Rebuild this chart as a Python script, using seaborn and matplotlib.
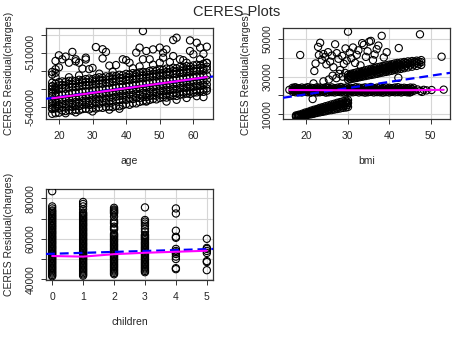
import matplotlib
matplotlib.use("Agg")
import matplotlib.pyplot as plt
import seaborn as sns
import pandas as pd

# ---------------- data (residuals for age panel in thousands) ----------------
ages = [18, 19, 20, 21, 22, 23, 24, 25, 26, 27, 28, 29, 30, 31, 32, 33, 34, 35, 36, 37,
        38, 39, 40, 41, 42, 43, 44, 45, 46, 47, 48, 49, 50, 51, 52, 53, 54, 55, 56, 57,
        58, 59, 60, 61, 62, 63, 64]
age_band1 = [-543.8, -543.5, -543.2, -542.0, -542.3, -541.8, -542.1, -541.5, -541.9, -541.2,
             -541.0, -541.4, -540.6, -540.9, -540.3, -540.5, -540.0, -539.8, -540.1, -539.5,
             -539.6, -539.0, -538.4, -538.8, -537.9, -538.0, -537.2, -536.8, -537.0, -536.1,
             -535.6, -535.8, -535.0, -534.6, -534.8, -534.0, -533.7, -533.9, -533.2, -533.0,
             -532.6, -532.8, -532.1, -531.9, -531.5, -531.6, -531.0]
age_band7 = [-541.2, -540.6, -540.9, -540.1, -540.4, -539.7, -540.0, -539.3, -539.6, -538.9,
             -538.6, -538.8, -538.1, -537.9, -538.2, -537.4, -537.6, -536.9, -537.1, -536.5,
             -536.2, -535.9, -536.1, -535.4, -535.6, -534.9, -535.1, -534.4, -534.6, -533.9,
             -533.6, -533.8, -533.1, -533.3, -532.6, -532.8, -532.1, -532.3, -531.6, -531.8,
             -531.1, -531.3, -530.6, -530.8, -530.1, -530.3, -529.7]
age_band2 = [-539.2, -538.6, -538.9, -538.1, -538.3, -537.6, -537.9, -537.2, -537.5, -536.8,
             -536.4, -536.7, -536.0, -535.6, -535.9, -535.2, -535.4, -534.7, -534.9, -534.3,
             -534.0, -533.6, -533.8, -533.1, -533.3, -532.6, -532.9, -532.1, -532.3, -531.6,
             -531.4, -531.7, -530.8, -531.0, -530.4, -530.6, -529.9, -530.1, -529.5, -529.2,
             -529.0, -528.6, -528.8, -528.1, -528.3, -527.6, -527.5]
age_band3 = [-536.6, -536.2, -536.0, -535.9, -535.4, -535.3, -535.1, -534.7, -534.6, -534.2,
             -534.1, -533.7, -533.6, -533.2, -533.1, -532.8, -532.4, -532.3, -532.0, -531.8,
             -531.4, -531.3, -531.0, -530.7, -530.6, -530.2, -529.9, -529.8, -529.4, -529.3,
             -529.0, -528.7, -528.6, -528.2, -528.0, -527.7, -527.5, -527.2, -527.0, -526.8,
             -526.4, -526.3, -526.0, -525.7, -525.6, -525.2, -525.0]
age_band4 = [-534.0, -533.8, -533.4, -533.3, -532.9, -532.8, -532.4, -532.3, -531.9, -531.8,
             -531.4, -531.3, -530.9, -530.8, -530.4, -530.3, -529.9, -529.8, -529.4, -529.3,
             -528.9, -528.8, -528.4, -528.3, -527.9, -527.8, -527.4, -527.3, -526.9, -526.8,
             -526.4, -526.3, -525.9, -525.8, -525.4, -525.3, -524.9, -524.8, -524.4, -524.3,
             -523.9, -523.8, -523.4, -523.3, -522.9, -522.8, -522.5]
age_band5 = [-530.2, -530.8, -530.0, -529.4, -529.9, -529.1, -528.7, -529.0, -528.4, -528.0,
             -527.8, -528.1, -527.3, -527.5, -526.9, -527.1, -526.4, -526.6, -526.0, -525.7,
             -525.4, -525.6, -524.9, -525.2, -524.4, -524.6, -523.9, -524.1, -523.4, -523.6,
             -522.9, -523.1, -522.4, -522.6, -521.9, -522.1, -521.5, -521.7, -521.0, -521.2,
             -520.6, -520.8, -520.1, -520.3, -519.7, -519.9, -519.3]
age_band8 = [-528.4, -528.9, -528.0, -527.7, -528.1, -527.2, -527.5, -526.8, -527.0, -526.4,
             -526.1, -526.3, -525.6, -525.9, -525.2, -525.4, -524.7, -524.9, -524.3, -524.5,
             -523.8, -524.0, -523.3, -523.6, -522.9, -523.1, -522.4, -522.6, -521.9, -522.1,
             -521.5, -521.7, -521.0, -521.2, -520.5, -520.7, -520.0, -520.2, -519.6, -519.8,
             -519.1, -519.3, -518.6, -518.8, -518.2, -518.4, -517.6]
age_band6 = [-526.5, -527.0, -526.2, -525.8, -526.0, -525.5, -525.3, -525.6, -524.9, -525.1,
             -524.5, -524.2, -524.6, -523.9, -523.5, -523.8, -523.0, -523.2, -522.6, -522.8,
             -522.1, -522.4, -521.6, -521.9, -521.2, -521.4, -520.8, -520.5, -520.7, -520.0,
             -519.6, -519.9, -519.1, -519.4, -518.7, -518.9, -518.2, -518.5, -517.8, -518.0,
             -517.3, -517.6, -516.9, -516.5, -516.7, -516.0, -515.6]
age_extra_x = [18, 18, 18, 18, 18, 18, 18, 19, 19, 19, 19, 19, 19,
               20, 19, 21, 22, 23, 24, 25, 25, 26, 27, 28, 28, 29, 30, 31, 33, 34, 33, 35,
               37, 39, 40, 19, 20,
               45, 55, 54, 59, 61, 64, 44, 46, 48, 50, 51, 52, 45, 47, 50, 51, 54, 56, 59,
               60, 62, 62, 63, 58, 64, 43, 41,
               42, 44, 48, 53, 57, 36, 32, 26, 23, 46, 52, 55, 58, 61, 63, 38, 35, 30, 25, 22]
age_extra_y = [-540.6, -538.0, -532.6, -531.5, -528.6, -522.0, -520.5,
               -540.8, -537.5, -532.2, -529.5, -523.4, -521.0,
               -511.3, -514.4, -513.5, -512.0, -515.4, -509.4, -513.5, -514.6, -515.4, -518.7,
               -512.6, -513.6, -519.0, -518.3, -506.7, -507.9, -509.4, -513.0, -517.0,
               -516.7, -513.5, -514.0, -519.0, -518.0,
               -497.8, -501.5, -502.8, -503.0, -504.3, -506.5, -507.0, -508.9, -508.0, -507.0,
               -509.8, -508.0, -513.5, -513.5, -515.4, -512.6, -511.7, -513.5, -508.9,
               -510.7, -507.0, -513.5, -510.5, -515.4, -515.4, -509.8, -515.4,
               -518.5, -517.5, -516.5, -515.0, -514.0, -520.5, -521.5, -522.5, -523.5,
               -536.5, -537.0, -536.0, -535.0, -534.0, -534.5, -541.0, -541.5, -542.5,
               -543.0, -543.5]
age_smooth_x = [18, 30, 40, 50, 64]
age_smooth_y = [-535200, -532200, -529600, -527000, -523400]
age_fit = (-539500, 250)          # intercept, slope of linear fit

# bmi panel
bmi_main_x = [16.8, 17.5, 18.3, 19.0, 19.8, 20.4, 21.2, 21.9, 22.6, 23.3, 24.1, 24.8, 25.5,
              26.2, 26.9, 27.7, 28.4, 29.1, 29.8, 30.6, 31.3, 32.0, 32.7, 33.5, 34.2, 34.9,
              35.6, 36.3, 37.1, 37.8, 38.5, 39.2, 40.0, 40.7, 41.4, 42.1, 42.9, 43.6, 44.3, 45.1]
bmi_main_x2 = [17.1, 17.9, 18.6, 19.4, 20.1, 20.8, 21.5, 22.3, 23.0, 23.7, 24.4, 25.1, 25.9,
               26.6, 27.3, 28.0, 28.7, 29.5, 30.2, 30.9, 31.6, 32.4, 33.1, 33.8, 34.5, 35.2,
               36.0, 36.7, 37.4, 38.1, 38.9, 39.6, 40.3, 41.0, 41.8, 42.5, 43.2, 44.0, 44.7, 45.5]
bmi_main_a = [21900, 21700, 21800, 21600, 21900, 21700, 21500, 21800, 21600, 21700, 21900, 21500,
              21700, 21800, 21600, 21900, 21700, 21500, 21800, 21600, 21700, 21900, 21600, 21800,
              21500, 21700, 21900, 21600, 21800, 21700, 21500, 21800, 21600, 21900, 21700, 21800,
              21600, 21900, 21700, 21800]
bmi_main_b = [22900, 23000, 22800, 23100, 22900, 22700, 23000, 22800, 23100, 22900, 22800, 23000,
              22700, 22900, 23100, 22800, 23000, 22900, 22700, 23000, 22800, 23100, 22900, 22700,
              23000, 22800, 22900, 23100, 22700, 23000, 22800, 22900, 23100, 22800, 23000, 22700,
              22900, 22800, 23000, 22900]
bmi_main_c = [24100, 24300, 23900, 24200, 24000, 24400, 24100, 23900, 24300, 24200, 24000, 24400,
              24100, 24300, 23900, 24200, 24500, 24000, 24300, 24100, 23900, 24400, 24200, 24000,
              24300, 24100, 24500, 23900, 24200, 24400, 24000, 24300, 24100, 23900, 24200, 24400,
              24000, 24100, 23900, 24200]
bmi_main_d = [22300, 22200, 22400, 22300, 22100, 22400, 22200, 22300, 22500, 22200, 22300, 22100,
              22400, 22300, 22200, 22400, 22300, 22100, 22300, 22400, 22200, 22300, 22500, 22200,
              22300, 22100, 22400, 22200, 22300, 22400, 22200, 22100, 22300, 22400, 22200, 22300,
              22100, 22300, 22400, 22200]
bmi_main_e = [23500, 23600, 23400, 23500, 23700, 23400, 23600, 23500, 23300, 23600, 23500, 23700,
              23400, 23500, 23600, 23400, 23500, 23700, 23500, 23300, 23600, 23500, 23400, 23700,
              23500, 23600, 23400, 23500, 23700, 23400, 23600, 23500, 23300, 23600, 23500, 23400,
              23600, 23500, 23700, 23400]
bmi_low_x = [17.6, 18.3, 19.1, 19.8, 20.5, 21.2, 21.9, 22.6, 23.3, 24.0, 24.7, 25.4, 26.1, 26.8,
             27.5, 28.2, 28.9, 29.6, 30.1]
bmi_low_x2 = [18.0, 18.7, 19.5, 20.2, 20.9, 21.6, 22.3, 23.0, 23.7, 24.4, 25.1, 25.8, 26.5,
              27.2, 27.9, 28.6, 29.3, 29.9]
bmi_low_a = [8700, 8900, 9100, 9400, 9700, 10000, 10300, 10700, 11000, 11300, 11600, 12000,
             12200, 12500, 12800, 13100, 13400, 13600, 13900]
bmi_low_b = [9000, 9300, 9700, 10200, 10600, 11000, 11500, 11900, 12300, 12800, 13100, 13600,
             13900, 14300, 14700, 15100, 15400, 15800, 16000]
bmi_low_c = [9400, 9800, 10300, 10900, 11300, 11900, 12400, 12800, 13400, 13800, 14300, 14700,
             15200, 15600, 16100, 16500, 16900, 17300, 17500]
bmi_low_d = [8800, 9100, 9400, 9800, 10200, 10500, 10900, 11300, 11700, 12000, 12400, 12800,
             13100, 13500, 13800, 14200, 14500, 14800]
bmi_low_e = [9200, 9600, 10000, 10500, 11000, 11500, 11900, 12400, 12800, 13300, 13700, 14200,
             14500, 14900, 15400, 15800, 16200, 16600]
bmi_up_x = [30.1, 30.8, 31.5, 32.2, 32.9, 33.6, 34.3, 35.0, 35.7, 36.4, 37.1, 37.8, 38.5, 39.2,
            39.9, 40.6, 41.3, 42.0, 42.8, 43.6, 44.5, 45.5, 46.6, 47.7]
bmi_up_x2 = [30.5, 31.2, 31.9, 32.6, 33.3, 34.0, 34.7, 35.4, 36.1, 36.8, 37.5, 38.2, 38.9, 39.6,
             40.3, 41.0, 41.7, 42.4, 43.2, 44.0, 45.0, 46.0, 47.1]
bmi_up_a = [28400, 28700, 29000, 29300, 29700, 30000, 30300, 30600, 30900, 31200, 31500, 31900,
            32200, 32500, 32800, 33100, 33500, 33800, 34100, 34500, 34900, 35300, 35700, 36200]
bmi_up_b = [29700, 30100, 30500, 30800, 31200, 31600, 32000, 32400, 32700, 33000, 33400, 33800,
            34100, 34500, 34800, 35100, 35500, 35800, 36100, 36400, 36700, 37100, 37400, 37700]
bmi_up_c = [31000, 31500, 31900, 32300, 32600, 33000, 33400, 33800, 34200, 34600, 35000, 35300,
            35700, 36000, 36300, 36600, 37000, 37300, 37500, 37800, 38100, 38300, 38500, 38800]
bmi_up_d = [29000, 29400, 29700, 30100, 30400, 30800, 31200, 31500, 31800, 32200, 32500, 32900,
            33200, 33500, 33900, 34200, 34500, 34900, 35200, 35600, 36000, 36400, 36800]
bmi_up_e = [30400, 30900, 31200, 31600, 32000, 32300, 32700, 33100, 33500, 33800, 34200, 34500,
            34900, 35200, 35600, 35900, 36200, 36600, 36900, 37200, 37500, 37800, 38100]
bmi_extra_x = [18.6, 22.0, 22.3, 22.9, 23.4, 23.1, 23.8, 24.2, 24.6, 24.9, 25.3, 25.8, 26.2, 26.6,
               27.0, 27.4, 27.8, 28.2, 28.7, 29.1, 29.5, 29.8, 30.1, 30.5, 30.9, 31.3, 31.8, 32.2,
               32.6, 33.1, 33.5, 33.9, 34.4, 34.8, 35.2, 35.6, 36.1, 36.5, 37.0, 37.4, 38.2, 38.7,
               39.4, 42.3, 47.4, 52.6, 21.8, 21.6, 25.5, 26.4, 27.3, 28.0, 28.8, 29.4, 24.2, 42.2,
               16.0, 46.0, 46.8, 47.5, 48.3, 49.0, 50.2, 53.1, 45.8, 44.9, 47.9, 17.3]
bmi_extra_y = [41500, 33000, 37000, 45800, 48000, 41500, 39000, 42000, 40500, 36500, 43000, 38000,
               41200, 35000, 47200, 42500, 39500, 33500, 41000, 36800, 45000, 38500, 53900, 42800,
               39800, 45500, 37300, 41600, 44000, 36000, 47800, 46900, 40500, 43500, 48600, 49000,
               38800, 41800, 44600, 46500, 51700, 40200, 43000, 45200, 52500, 40600, 26400, 18100,
               28500, 30500, 29200, 31500, 30000, 32000, 27500, 29400,
               23000, 22600, 23200, 22400, 23000, 22700, 22900, 23100, 24100, 21600, 21900, 24200]
bmi_smooth_x = [16.0, 25.0, 35.0, 45.0, 53.1]
bmi_smooth_y = [22900, 22800, 22700, 22800, 23000]
bmi_fit = (14000, 330)

# children panel
child_0 = [41500, 42100, 42800, 43400, 44000, 44700, 45300, 45900, 46500, 47200, 47800, 48400,
           49000, 49700, 50300, 50900, 51500, 52200, 52800, 53400, 54000, 54700, 55300, 55900,
           56500, 57200, 57800, 58400, 59000, 59700, 60300, 60900, 61500, 62200, 62800, 63400,
           64000, 64700, 65300, 66000, 66500, 67200, 67800, 68500, 69000, 69800, 70300, 71000,
           71500, 72200, 72800, 73500, 74000, 75000, 76000, 83500]
child_1 = [41800, 42400, 43000, 43700, 44300, 44900, 45500, 46200, 46800, 47400, 48000, 48700,
           49300, 49900, 50500, 51200, 51800, 52400, 53000, 53700, 54300, 54900, 55500, 56200,
           56800, 57400, 58000, 58700, 59300, 59900, 60500, 61200, 61800, 62400, 63000, 63700,
           64300, 64900, 65500, 66200, 66800, 67400, 68000, 68700, 69300, 70000, 70500, 71200,
           71800, 72400, 73000, 74500, 76000, 77200, 78200]
child_2 = [42500, 43100, 43800, 44400, 45000, 45700, 46300, 46900, 47500, 48200, 48800, 49400,
           50000, 50700, 51300, 51900, 52500, 53200, 53800, 54400, 55000, 55700, 56300, 56900,
           57500, 58200, 58800, 59400, 60000, 60700, 61300, 61900, 62500, 64500, 65200, 66000,
           67500, 68200, 69000, 71000, 72500, 73000, 73500, 74000, 74500, 75300]
child_3 = [43500, 44100, 44800, 45400, 46000, 46700, 47300, 47900, 48500, 49200, 49800, 50400,
           51000, 51700, 52300, 52900, 53500, 54200, 54800, 55400, 56000, 56700, 57300, 57900,
           58500, 59300, 60000, 60500, 61000, 61600, 62000, 63500, 65000, 66500, 67500, 68500,
           69300, 75500]
child_4 = [45000, 45500, 50000, 51200, 52500, 53300, 54000, 55000, 60500, 61000, 64000, 72500,
           75000]
child_5 = [44500, 48500, 49000, 53000, 54000, 55000, 55500, 60000]
child_smooth_x = [0, 1, 2, 3, 4, 5]
child_smooth_y = [51500, 51200, 52400, 53100, 53600, 54100]
child_fit = (52600, 460)

# ---------------- frames ----------------
age_bands = [age_band1, age_band7, age_band2, age_band3, age_band4, age_band5, age_band8,
             age_band6]
age_y = [v for band in age_bands for v in band] + age_extra_y
df_age = pd.DataFrame({"age": ages * len(age_bands) + age_extra_x,
                       "res": [v * 1000 for v in age_y]})
df_bmi = pd.DataFrame({
    "bmi": bmi_main_x * 3 + bmi_main_x2 * 2 + bmi_low_x * 3 + bmi_low_x2 * 2
           + bmi_up_x * 3 + bmi_up_x2 * 2 + bmi_extra_x,
    "res": bmi_main_a + bmi_main_b + bmi_main_c + bmi_main_d + bmi_main_e
           + bmi_low_a + bmi_low_b + bmi_low_c + bmi_low_d + bmi_low_e
           + bmi_up_a + bmi_up_b + bmi_up_c + bmi_up_d + bmi_up_e + bmi_extra_y})
child_cols = [child_0, child_1, child_2, child_3, child_4, child_5]
df_child = pd.DataFrame({
    "children": [k for k, col in enumerate(child_cols) for _ in col],
    "res": [v for col in child_cols for v in col]})

# ---------------- plotting ----------------
sns.set_style("white")
plt.rcParams["font.family"] = ["Liberation Sans", "DejaVu Sans"]

fig = plt.figure(figsize=(4.74, 3.38), dpi=100)
W, H = 474, 338
ax1 = fig.add_axes([46 / W, 1 - 119 / H, 167 / W, 91 / H])
ax2 = fig.add_axes([283 / W, 1 - 119 / H, 167 / W, 91 / H])
ax3 = fig.add_axes([46 / W, 1 - 280 / H, 167 / W, 91 / H])


def panel(ax, df, xcol, xlim, ylim, xticks, yticks, ylabels, fit, sx, sy):
    ax.set_xlim(*xlim)
    ax.set_ylim(*ylim)
    ax.set_xticks(xticks)
    ax.set_yticks(yticks)
    ax.set_yticklabels(ylabels, rotation=90, va="center")
    ax.grid(True, color="#d6d6d6", lw=0.8)
    ax.set_axisbelow(True)
    sns.scatterplot(data=df, x=xcol, y="res", ax=ax, marker="o", s=27,
                    facecolor="none", edgecolor="black", linewidth=0.8, zorder=3)
    ax.axline((0, fit[0]), slope=fit[1], color="#0000ff", lw=1.6,
              ls=(0, (4, 2.2)), zorder=4)
    sns.lineplot(x=sx, y=sy, ax=ax, color="#ff00ff", lw=1.5, zorder=5)
    ax.set_xlabel(xcol, fontsize=7.5, labelpad=11)
    ax.set_ylabel("CERES Residual(charges)", fontsize=7.5, labelpad=8)
    ax.tick_params(axis="both", bottom=True, left=True, direction="out",
                   length=3.6, width=0.7, labelsize=7.5, color="#333333")
    ax.tick_params(axis="x", pad=5)
    ax.tick_params(axis="y", pad=4)
    for s in ax.spines.values():
        s.set_color("#333333")
        s.set_linewidth(0.9)


panel(ax1, df_age, "age", (16.16, 65.84), (-546700, -496100), [20, 30, 40, 50, 60],
      [-540000, -530000, -520000, -510000, -500000],
      ["-540000", "", "", "-510000", ""], age_fit, age_smooth_x, age_smooth_y)
panel(ax2, df_bmi, "bmi", (14.47, 54.62), (7500, 55850), [20, 30, 40, 50],
      [10000, 20000, 30000, 40000, 50000],
      ["10000", "", "30000", "", "50000"], bmi_fit, bmi_smooth_x, bmi_smooth_y)
panel(ax3, df_child, "children", (-0.2, 5.2), (39650, 84600), [0, 1, 2, 3, 4, 5],
      [40000, 50000, 60000, 70000, 80000],
      ["40000", "", "60000", "", "80000"], child_fit, child_smooth_x, child_smooth_y)

fig.text(0.5, 1 - 12 / H, "CERES Plots", ha="center", va="center", fontsize=10.5)
fig.savefig("out.png", dpi=100)
